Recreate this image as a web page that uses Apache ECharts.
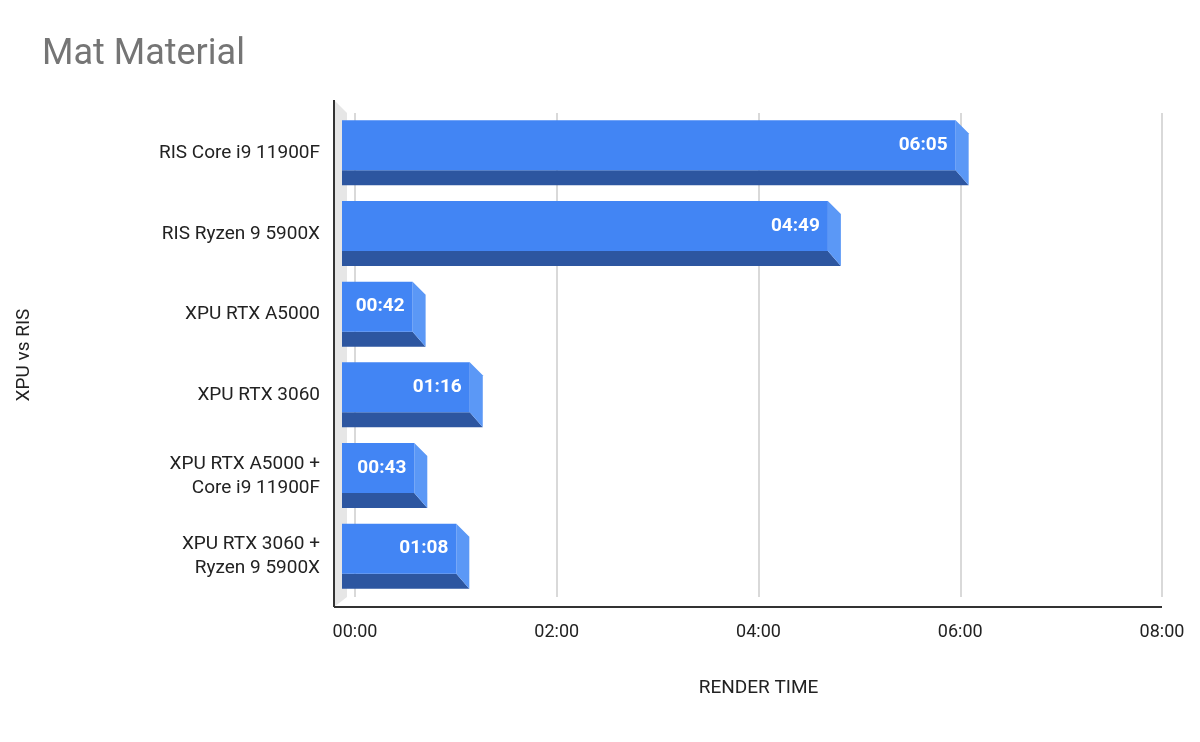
<!DOCTYPE html>
<html><head><meta charset="utf-8">
<script src="https://cdn.jsdelivr.net/npm/echarts@6/dist/echarts.min.js"></script>
<style>html,body{margin:0;padding:0;background:#fff}#c{width:1200px;height:742px}</style>
</head><body><div id="c"></div>
<script>
const categories = ['RIS Core i9 11900F','RIS Ryzen 9 5900X','XPU RTX A5000','XPU RTX 3060','XPU RTX A5000 +\nCore i9 11900F','XPU RTX 3060 +\nRyzen 9 5900X'];
const renderSeconds = [365, 289, 42, 76, 43, 68];
const xTicks = [0, 120, 240, 360, 480];
function fmt(s){const m=Math.floor(s/60),r=Math.round(s%60);return String(m).padStart(2,'0')+':'+String(r).padStart(2,'0');}
const chart = echarts.init(document.getElementById('c'));
const D = 13;
chart.setOption({
  animation:false,
  title:{text:'Mat Material',left:37,top:32,textStyle:{fontFamily:'Roboto',fontSize:36,fontWeight:'normal',color:'#757575'}},
  grid:{left:355,right:38,top:113,bottom:145},
  graphic:[
    {type:'polygon',z:0,shape:{points:[[334,100],[347,113],[347,597],[334,607]]},style:{fill:'#e6e6e6'}},
    {type:'line',z:10,shape:{x1:334,y1:607,x2:1162,y2:607},style:{stroke:'#333',lineWidth:2}},
    {type:'line',z:10,shape:{x1:334,y1:100,x2:334,y2:607},style:{stroke:'#333',lineWidth:2}}
  ],
  xAxis:{type:'value',min:0,max:480,interval:120,
    name:'RENDER TIME',nameLocation:'middle',nameGap:82,
    nameTextStyle:{fontFamily:'Roboto',fontSize:19,color:'#222'},
    axisLine:{show:false},axisTick:{show:false},
    axisLabel:{formatter:v=>fmt(v),fontFamily:'Roboto',fontSize:18,color:'#222',margin:26},
    splitLine:{lineStyle:{color:'#ccc',width:1.5}}},
  yAxis:{type:'category',data:categories,inverse:true,offset:21,
    name:'XPU vs RIS',nameLocation:'middle',nameGap:300,nameRotate:90,
    nameTextStyle:{fontFamily:'Roboto',fontSize:19,color:'#222'},
    axisLine:{show:false},
    axisTick:{show:true,length:12,alignWithLabel:true,lineStyle:{color:'#333',width:2}},
    axisLabel:{fontFamily:'Roboto',fontSize:19,color:'#222',margin:14,lineHeight:24}},
  series:[{type:'custom',z:5,data:renderSeconds.map((v,i)=>[v,i]),
    renderItem:function(params,api){
      const v=api.value(0), i=api.value(1);
      const p0=api.coord([0,i]), p1=api.coord([v,i]);
      const x0=p0[0]-D, x1=p1[0]-D, c=p0[1];
      const yT=c-33, yF=c+17, yB=c+32;
      return {type:'group',children:[
        {type:'polygon',shape:{points:[[x0,yF],[x1,yF],[x1+D,yB],[x0,yB]]},style:{fill:'#2d56a0'}},
        {type:'polygon',shape:{points:[[x1,yT],[x1+D,yT+D],[x1+D,yB],[x1,yF]]},style:{fill:'#5b98f6'}},
        {type:'rect',shape:{x:x0,y:yT,width:x1-x0,height:yF-yT},style:{fill:'#4285f4'}},
        {type:'text',style:{text:fmt(v),x:x1-8,y:(yT+yF)/2,align:'right',verticalAlign:'middle',
          fill:'#fff',font:'bold 19px Roboto'}}
      ]};
    }}]
});
</script></body></html>
